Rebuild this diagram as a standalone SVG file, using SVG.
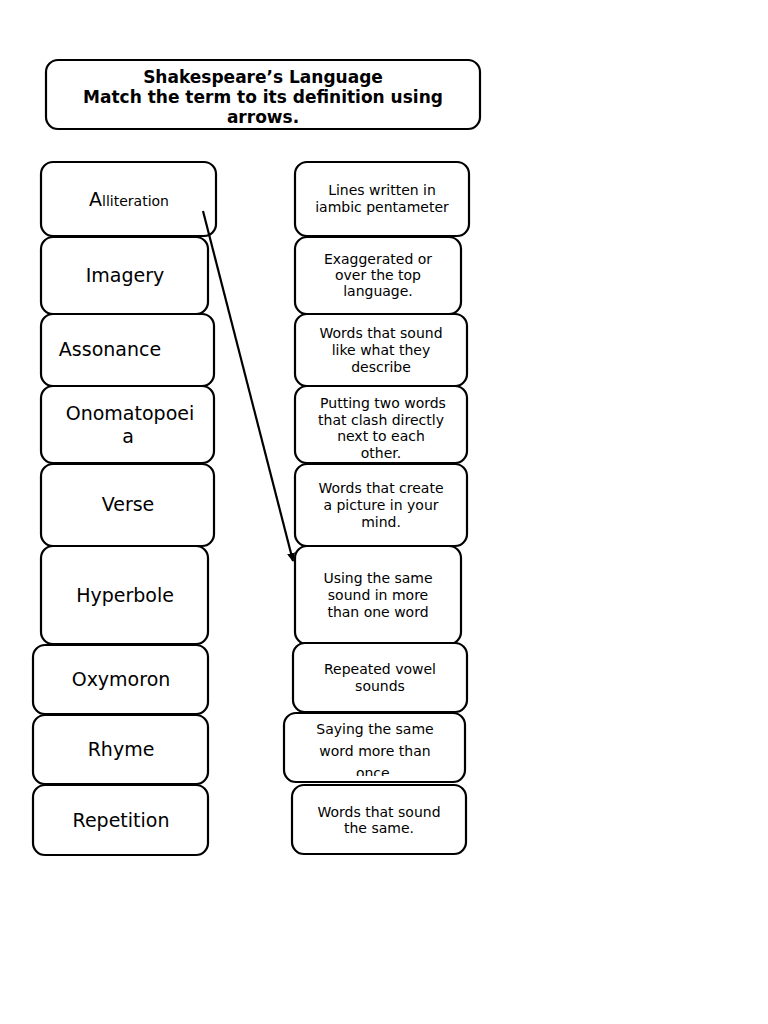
<svg xmlns="http://www.w3.org/2000/svg" width="768" height="1024" viewBox="0 0 768 1024">
<style>
rect{fill:#fff;stroke:#000;stroke-width:2.2}
text{font-family:"DejaVu Sans",sans-serif;fill:#000;text-anchor:middle}
.t{font-size:19px}
.d{font-size:14px}
.h{font-size:17px;font-weight:bold}
</style>
<defs>
<marker id="a" markerWidth="10" markerHeight="10" refX="8" refY="5" orient="auto" markerUnits="userSpaceOnUse"><path d="M0,1 L9,5 L0,9 Z" fill="#000"/></marker>
<clipPath id="c4"><rect x="295" y="386" width="172" height="72"/></clipPath>
<clipPath id="c8"><rect x="284" y="713" width="181" height="63"/></clipPath>
</defs>
<rect width="768" height="1024" style="fill:#fff;stroke:none"/>
<g id="title"><rect x="46" y="60" width="434" height="69" rx="12"/>
<text class="h" x="263" y="83">Shakespeare’s Language</text>
<text class="h" x="263" y="103">Match the term to its definition using</text>
<text class="h" x="263" y="123">arrows.</text></g>
<g id="l1"><rect x="41" y="162" width="175" height="74" rx="12"/><text x="129" y="206"><tspan class="t">A</tspan><tspan class="d">lliteration</tspan></text></g>
<g id="l2"><rect x="41" y="237" width="167" height="77" rx="12"/><text class="t" x="125" y="282">Imagery</text></g>
<g id="l3"><rect x="41" y="314" width="173" height="72" rx="12"/><text class="t" x="110" y="356">Assonance</text></g>
<g id="l4"><rect x="41" y="386" width="173" height="77" rx="12"/><text class="t" x="130" y="420">Onomatopoei</text><text class="t" x="128" y="443">a</text></g>
<g id="l5"><rect x="41" y="464" width="173" height="82" rx="12"/><text class="t" x="128" y="511">Verse</text></g>
<g id="l6"><rect x="41" y="546" width="167" height="98" rx="12"/><text class="t" x="125" y="602">Hyperbole</text></g>
<g id="l7"><rect x="33" y="645" width="175" height="69" rx="12"/><text class="t" x="121" y="686">Oxymoron</text></g>
<g id="l8"><rect x="33" y="715" width="175" height="69" rx="12"/><text class="t" x="121" y="756">Rhyme</text></g>
<g id="l9"><rect x="33" y="785" width="175" height="70" rx="12"/><text class="t" x="121" y="827">Repetition</text></g>
<g id="r1"><rect x="295" y="162" width="174" height="74" rx="12"/><text class="d" x="382" y="195">Lines written in</text><text class="d" x="382" y="212">iambic pentameter</text></g>
<g id="r2"><rect x="295" y="237" width="166" height="77" rx="12"/><text class="d" x="378" y="264">Exaggerated or</text><text class="d" x="378" y="280">over the top</text><text class="d" x="378" y="296">language.</text></g>
<g id="r3"><rect x="295" y="314" width="172" height="72" rx="12"/><text class="d" x="381" y="338">Words that sound</text><text class="d" x="381" y="355">like what they</text><text class="d" x="381" y="372">describe</text></g>
<g id="r4"><rect x="295" y="386" width="172" height="77" rx="12"/><g clip-path="url(#c4)"><text class="d" x="383" y="408">Putting two words</text><text class="d" x="381" y="425">that clash directly</text><text class="d" x="381" y="441">next to each</text><text class="d" x="381" y="458">other.</text></g></g>
<g id="r5"><rect x="295" y="464" width="172" height="82" rx="12"/><text class="d" x="381" y="493">Words that create</text><text class="d" x="381" y="510">a picture in your</text><text class="d" x="381" y="527">mind.</text></g>
<g id="r6"><rect x="295" y="546" width="166" height="98" rx="12"/><text class="d" x="378" y="583">Using the same</text><text class="d" x="378" y="600">sound in more</text><text class="d" x="378" y="617">than one word</text></g>
<g id="r7"><rect x="293" y="643" width="174" height="69" rx="12"/><text class="d" x="380" y="674">Repeated vowel</text><text class="d" x="380" y="691">sounds</text></g>
<g id="r8"><rect x="284" y="713" width="181" height="69" rx="12"/><g clip-path="url(#c8)"><text class="d" x="375" y="734">Saying the same</text><text class="d" x="375" y="756">word more than</text><text class="d" x="375" y="778">once.</text></g></g>
<g id="r9"><rect x="292" y="785" width="174" height="69" rx="12"/><text class="d" x="379" y="817">Words that sound</text><text class="d" x="379" y="833">the same.</text></g>
<g id="connectors"><line x1="203" y1="211" x2="293" y2="561" stroke="#000" stroke-width="2.2" marker-end="url(#a)"/></g>
</svg>
